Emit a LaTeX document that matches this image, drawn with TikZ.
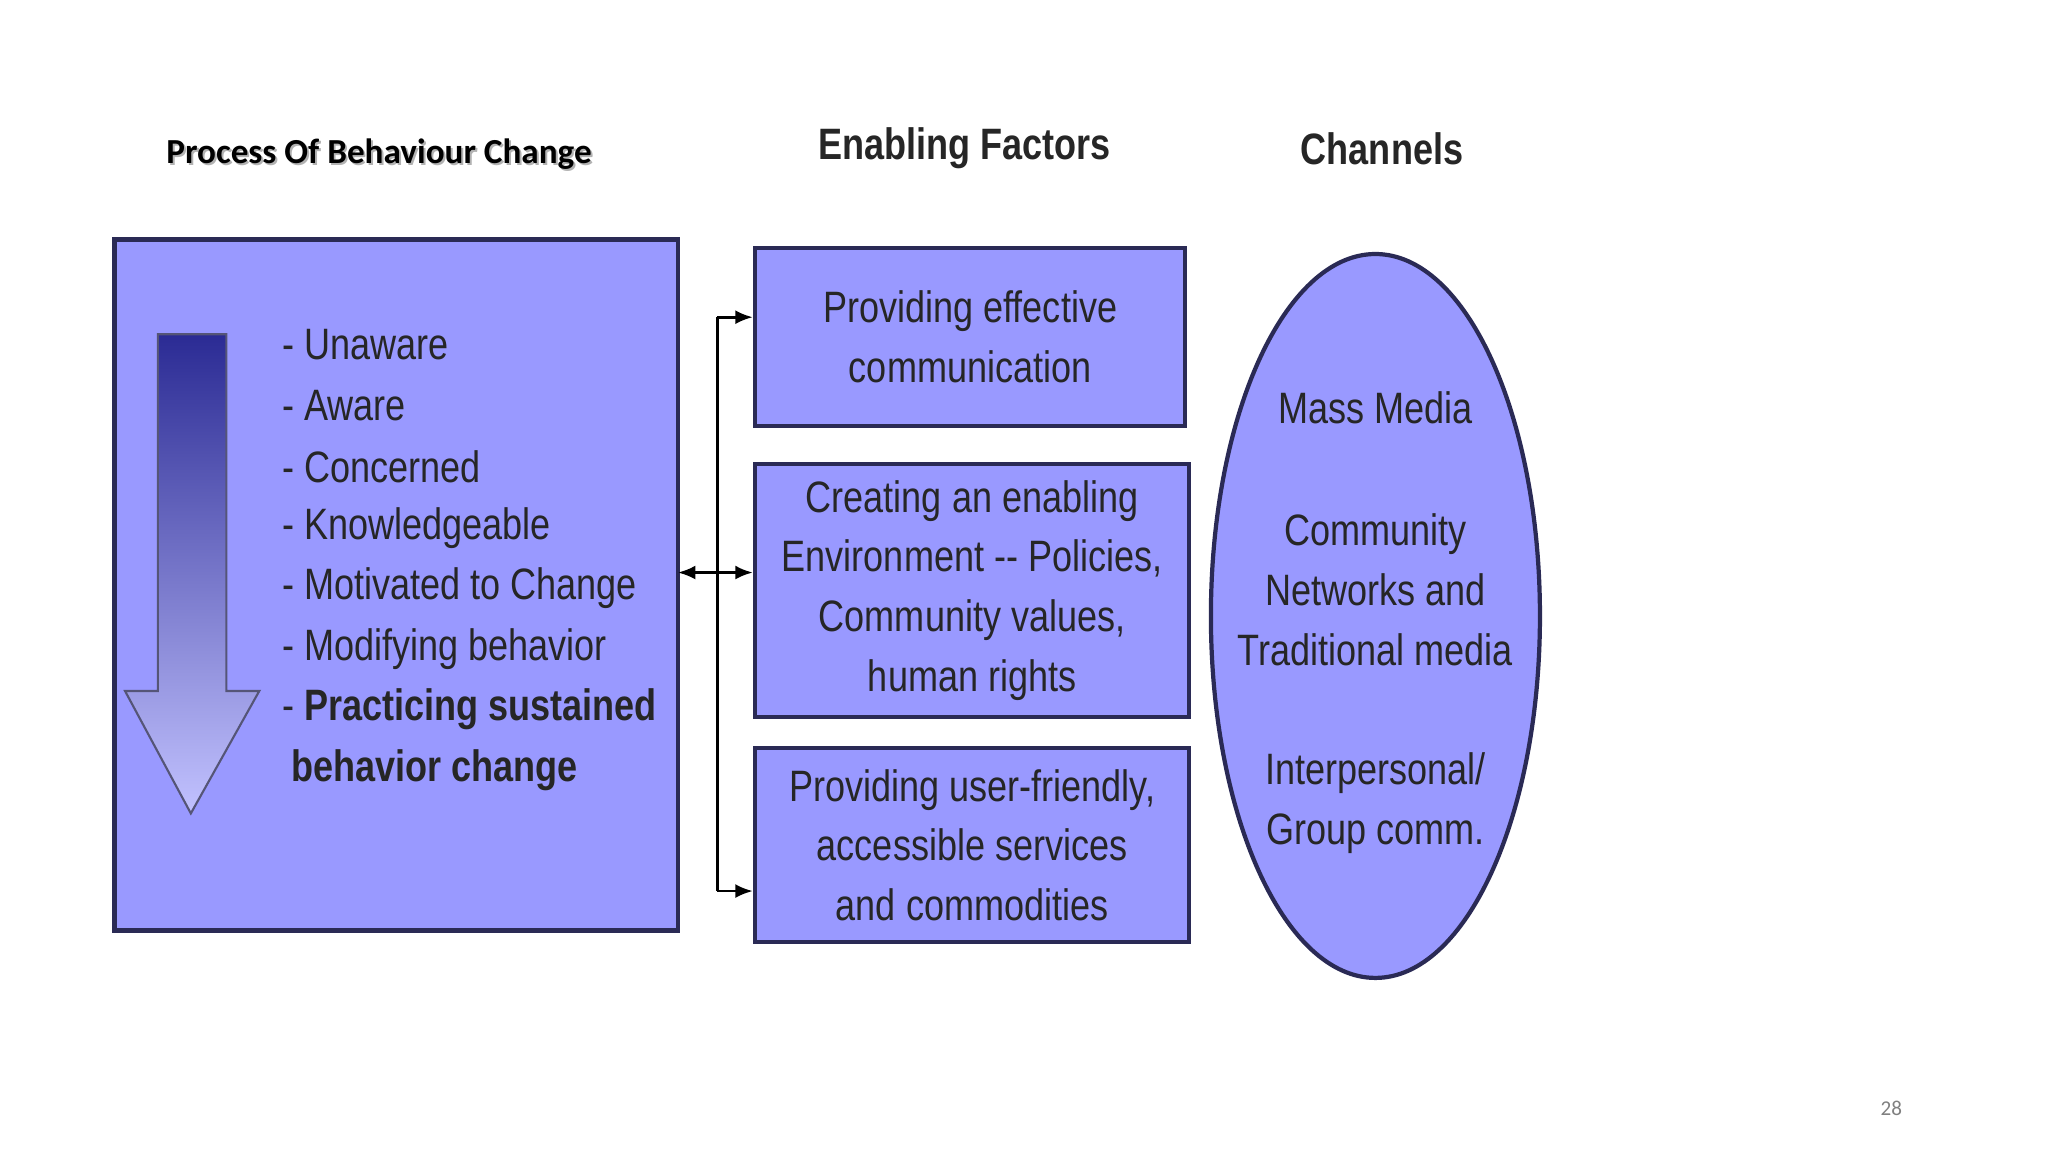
\documentclass[tikz,border=0pt]{standalone}
\usepackage{fontspec}
\setmainfont{Liberation Sans}
\newfontfamily\narrow[FakeStretch=0.82]{Liberation Sans}
\newfontfamily\carl{Carlito}
\usetikzlibrary{shapes.geometric,arrows.meta}
\definecolor{peri}{HTML}{9999FF}
\definecolor{edge}{HTML}{2A2A55}
\begin{document}
\begin{tikzpicture}[x=0.01316cm,y=-0.01316cm,
  box/.style={draw=edge,line width=1.2pt,fill=peri},
  txt/.style={font=\narrow\fontsize{12.5}{17}\selectfont,text=black!85,align=center},
  conn/.style={line width=0.8pt,-{Latex[length=5pt,width=4pt]}}]
\useasboundingbox (0,0) rectangle (1556,875);
\fill[white] (0,0) rectangle (1556,875);
% titles
\node[font=\carl\bfseries\fontsize{10}{12}\selectfont,text=gray!60] at (289.5,118.5) {Process Of Behaviour Change};
\node[font=\carl\bfseries\fontsize{10}{12}\selectfont] (t1) at (288,117) {Process Of Behaviour Change};
\node[font=\narrow\bfseries\fontsize{12.5}{15}\selectfont,text=black!85] (t2) at (733,113) {Enabling Factors};
\node[font=\narrow\bfseries\fontsize{12.5}{15}\selectfont,text=black!85] (t3) at (1050,113) {Channels};
% left box
\draw[box] (87,182) rectangle (515,707);
\coordinate (L) at (515,435);
\shade[top color=peri!40!black!70!blue,bottom color=peri!60!white,shading angle=0]
  (120,254) -- (172,254) -- (172,525) -- (197,525) -- (145,618) -- (95,525) -- (120,525) -- cycle;
\draw[edge!80,line width=0.6pt] (120,254) -- (172,254) -- (172,525) -- (197,525) -- (145,618) -- (95,525) -- (120,525) -- cycle;
\begin{scope}[every node/.style={txt,anchor=west,align=left}]
\node at (205,262) {- Unaware};
\node at (205,308) {- Aware};
\node at (205,355) {- Concerned};
\node at (205,401) {- Knowledgeable};
\node at (205,447) {- Motivated to Change};
\node at (205,493) {- Modifying behavior};
\node at (205,539) {- \textbf{Practicing sustained}};
\node at (212,585) {\textbf{behavior change}};
\end{scope}
% boxes
\node[box,txt,minimum width=327*0.01316cm,minimum height=135*0.01316cm,anchor=north west] (b1) at (572,187) {Providing effective\\communication};
\node[box,txt,minimum width=330*0.01316cm,minimum height=192*0.01316cm,anchor=north west] (b2) at (572,351) {Creating an enabling\\Environment -- Policies,\\Community values,\\human rights};
\node[box,txt,minimum width=330*0.01316cm,minimum height=147*0.01316cm,anchor=north west] (b3) at (572,567) {Providing user-friendly,\\accessible services\\and commodities};
% connectors
\coordinate (v1) at (545,241);
\coordinate (v2) at (545,435);
\coordinate (v3) at (545,677);
\draw[line width=0.8pt] (v1) -- (v3);
\draw[conn] (v1) -- (v1 -| b1.west);
\draw[conn] (v2) -- (v2 -| b2.west);
\draw[conn] (v3) -- (v3 -| b3.west);
\draw[conn] (v2) -- (L);
% ellipse
\node[ellipse,draw=edge,line width=1.2pt,fill=peri,minimum width=250*0.01316cm,minimum height=550*0.01316cm] (e) at (1045,468) {};
\node[txt] at (1045,310) {Mass Media};
\node[txt] at (1045,448) {Community\\Networks and\\Traditional media};
\node[txt] at (1045,610) {Interpersonal/\\Group comm.};
\node[font=\carl\fontsize{6}{7}\selectfont,text=gray] at (1437,842) {28};
\end{tikzpicture}
\end{document}
